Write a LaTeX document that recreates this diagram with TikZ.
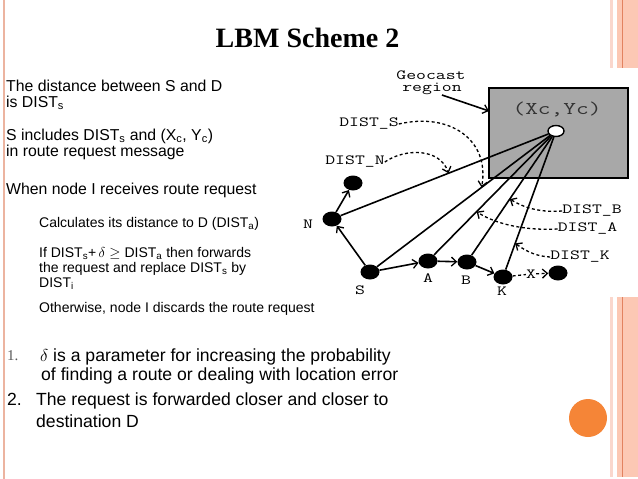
\documentclass[tikz,border=0pt]{standalone}
\usepackage{fontspec}
\setmainfont{Liberation Sans}
\newfontfamily\titlefont{Liberation Serif}
\newfontfamily\figfont[FakeStretch=1.37]{Latin Modern Mono}
\usetikzlibrary{arrows.meta,calc,shapes.geometric}
\definecolor{boxgray}{RGB}{168,168,168}
\definecolor{peach}{RGB}{252,200,180}
\definecolor{palepeach}{RGB}{250,215,205}
\definecolor{darkpeach}{RGB}{226,130,95}
\definecolor{orangedot}{RGB}{245,133,55}
\definecolor{leftline}{RGB}{236,180,160}
\begin{document}
\begin{tikzpicture}[x=1pt,y=-1pt,
  bodytext/.style={anchor=base west, inner sep=0pt, font=\fontsize{15.8}{17}\selectfont},
  subtext/.style={anchor=base west, inner sep=0pt, font=\fontsize{14}{15}\selectfont},
  bigtext/.style={anchor=base west, inner sep=0pt, font=\fontsize{17.6}{20}\selectfont},
  lbl/.style={inner sep=0pt, font=\figfont\fontsize{14}{12}\selectfont, align=center},
  blob/.style={ellipse, fill=black, minimum width=19pt, minimum height=15pt, inner sep=0pt},
  barb/.style={-{Straight Barb[length=5pt,width=9pt,line width=1.3pt]}},
  sline/.style={line width=1.6pt},
  dashdraw/.style={line width=1.3pt, dash pattern=on 3pt off 2.5pt},
  distarrow/.style={dashdraw, barb}
]
\useasboundingbox (0,0) rectangle (638,479);
% decorations
\draw[leftline, line width=2.5pt] (4,0) -- (4,479);
\fill[palepeach] (609.5,0) rectangle (613,68);
\fill[peach] (617,0) rectangle (638,68);
\draw[darkpeach, line width=0.8pt] (622,0) -- (622,68);
\fill[palepeach] (609.5,297) rectangle (613,477);
\fill[peach] (617,297) rectangle (638,477);
\draw[darkpeach, line width=0.8pt] (622,297) -- (622,477);
\fill[orangedot] (588,418) circle (19pt);

% title
\node[anchor=base, inner sep=0pt, font=\titlefont\bfseries\fontsize{28}{30}\selectfont] (title) at (307.5,47) {LBM Scheme 2};

% text
\node[bodytext] (t1) at (6,91) {The distance between S and D};
\node[bodytext] (t2) at (6,107) {is DIST\textsubscript{s}};
\node[bodytext] (t3) at (6,140) {S includes DIST\textsubscript{s} and (X\textsubscript{c}, Y\textsubscript{c})};
\node[bodytext] (t4) at (6,156) {in route request message};
\node[bodytext] (t5) at (6,194) {When node I receives route request};
\node[subtext] (t6) at (39,227) {Calculates its distance to D (DIST\textsubscript{a})};
\node[subtext] (t7) at (39,257) {If DIST\textsubscript{s}+\,$\delta\geq$ DIST\textsubscript{a} then forwards};
\node[subtext] (t8) at (39,272) {the request and replace DIST\textsubscript{s} by};
\node[subtext] (t9) at (39,287) {DIST\textsubscript{i}};
\node[subtext] (t10) at (39,312) {Otherwise, node I discards the route request};

\node[anchor=base west, inner sep=0pt, text=black!65, font=\titlefont\fontsize{15}{15}\selectfont] (n1) at (7,360) {1.};
\node[bigtext] (b1) at (40,361) {$\delta$ is a parameter for increasing the probability};
\node[bigtext] (b2) at (41,380) {of finding a route or dealing with location error};
\node[bigtext] (n2) at (7,405) {2.};
\node[bigtext] (b3) at (36,405) {The request is forwarded closer and closer to};
\node[bigtext] (b4) at (36,427) {destination D};

% diagram
\node[draw, line width=1.8pt, fill=boxgray, minimum width=139pt, minimum height=90pt, inner sep=0pt] (geo) at (558.5,133) {};
\node[font=\figfont\fontsize{18}{18}\selectfont, text=black!80, inner sep=0pt] (xy) at (557,110) {(Xc,Yc)};
\node[ellipse, draw, fill=white, line width=1.4pt, minimum width=16pt, minimum height=11pt, inner sep=0pt] (D) at (556,131) {};
\node[lbl, anchor=base] (geolabel1) at (431,79) {Geocast};
\node[lbl, anchor=base] (geolabel2) at (432,91.5) {region};
\coordinate (gs) at (442,95);
\coordinate (ge) at (489,111);
\draw[sline,barb] (gs) -- (ge);

\node[blob] (N) at (332,219) {};
\node[blob] (T) at (353,183) {};
\node[blob] (S) at (370,272) {};
\node[blob] (A) at (428,261) {};
\node[blob] (B) at (467,262) {};
\node[blob] (K) at (503,277) {};
\node[blob] (X) at (558,273) {};

\node[lbl] (lN) at (308,224) {N};
\node[lbl] (lS) at (360,290) {S};
\node[lbl] (lA) at (428,278) {A};
\node[lbl] (lB) at (466,280) {B};
\node[lbl] (lK) at (502,291) {K};

\foreach \n in {N,S,A,B,K} \draw[sline] (D) -- (\n);
\draw[sline,barb] (S) -- (N);
\draw[sline,barb] (N) -- (T);
\draw[sline,barb] (S) -- (A);
\draw[sline,barb] (A) -- (B);
\draw[sline,barb] (B) -- (K);
\node[lbl] (xl) at (531,274) {X};
\draw[dashdraw] (K) -- (xl);
\draw[distarrow] (xl) -- (X);

\node[lbl] (DS) at (369,124) {DIST\_S};
\node[lbl] (DN) at (355,162) {DIST\_N};
\node[lbl] (DB) at (592,211) {DIST\_B};
\node[lbl] (DA) at (587.5,229) {DIST\_A};
\node[lbl] (DK) at (580,257) {DIST\_K};

\coordinate (tS) at ($(D)!0.40!(S)$);
\coordinate (tN) at ($(D)!0.48!(N)$);
\coordinate (tB) at ($(D)!0.52!(B)$);
\coordinate (tA) at ($(D)!0.62!(A)$);
\coordinate (tK) at ($(D)!0.77!(K)$);

\draw[distarrow] (DS.east) .. controls (450,112) and (490,140) .. (tS);
\draw[distarrow] (DN.east) .. controls (405,148) and (440,148) .. (tN);
\draw[distarrow] (DB.west) .. controls (535,213) and (520,205) .. (tB);
\draw[distarrow] (DA.west) .. controls (520,231) and (492,222) .. (tA);
\draw[distarrow] (DK.west) .. controls (532,256) and (522,248) .. (tK);
\end{tikzpicture}
\end{document}
